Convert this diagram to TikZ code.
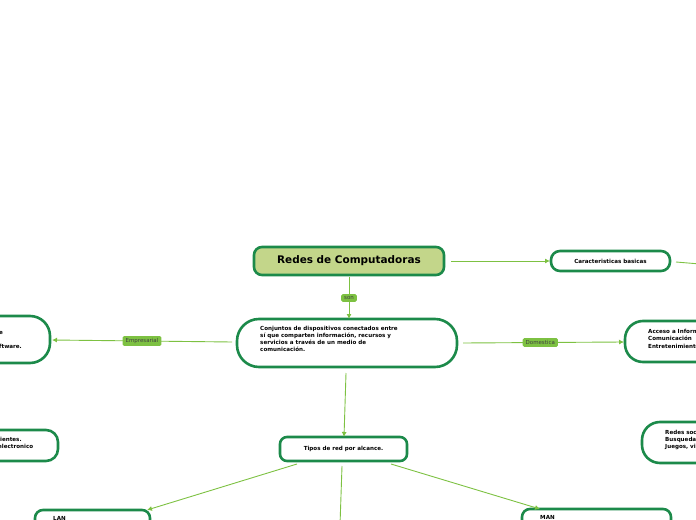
\documentclass[tikz,border=0pt]{standalone}
\usepackage{fontspec}
\setmainfont{DejaVu Sans}
\begin{document}
\begin{tikzpicture}[x=1bp,y=-1bp,
 box/.style={draw=dkg,line width=2.6bp,rounded corners=#1,fill=white,inner sep=0},
 box/.default=10bp,
 conn/.style={draw=lg,line width=0.9bp,-{Latex[length=5bp,width=5bp]}},
 plain/.style={draw=lg,line width=0.9bp},
 lab/.style={fill=lg,rounded corners=1.5bp,font=\fontsize{5.5}{6.5}\selectfont,text=black!75,inner xsep=3bp,inner ysep=2.3bp},
 txt/.style={font=\bfseries\fontsize{5.6}{7.2}\selectfont,align=left,anchor=north west,inner sep=0}]
\usetikzlibrary{arrows.meta}
\definecolor{dkg}{HTML}{1C8A4A}
\definecolor{lg}{HTML}{7DC142}
\definecolor{olive}{HTML}{C3D68A}
\useasboundingbox (0,0) rectangle (696,520);
\clip (0,0) rectangle (696,520);
% boxes
\draw[box=8bp,fill=olive] (254,247) rectangle (444,275);
\node[font=\bfseries\fontsize{10.5}{12}\selectfont] (root) at (349,261) {Redes de Computadoras};
\coordinate (rootR) at (451,261);
\coordinate (rootB) at (349,277);
\draw[box=22bp] (237,319) rectangle (457,367);
\node[txt] (conj) at (260,326) {Conjuntos de dispositivos conectados entre\\sí que comparten información, recursos y\\servicios a través de un medio de\\comunicación.};
\coordinate (conjL) at (232,342); \coordinate (conjR) at (463,343); \coordinate (conjB) at (346,373);
\draw[box=9bp] (551,251) rectangle (670,271);
\node[font=\bfseries\fontsize{5.6}{7}\selectfont] (car) at (610.5,261) {Caracteristicas basicas};
\coordinate (carL) at (550,261); \coordinate (carR) at (676,262); \coordinate (carX) at (700,264);
\draw[box=20bp] (-30,316) rectangle (50,363);
\node[txt] (emp) at (-1,331) {e\\\\ftware.};
\coordinate (empR) at (52,340);
\draw[box=12bp] (-30,430) rectangle (58,461);
\node[txt] (cli) at (-2,437) {lientes.\\electronico};
\draw[box=18bp] (625,321) rectangle (740,362);
\node[txt] (acc) at (648,329) {Acceso a Información\\Comunicación\\Entretenimiento};
\coordinate (accL) at (624,342);
\draw[box=18bp] (642,422) rectangle (740,463);
\node[txt] (red) at (665,430) {Redes sociales\\Busquedas\\Juegos, videos};
\draw[box=7bp] (280,437) rectangle (407,461);
\node[font=\bfseries\fontsize{5.6}{7}\selectfont] (tip) at (343.5,449) {Tipos de red por alcance.};
\coordinate (tipT) at (344,437); \coordinate (tipL) at (297,464); \coordinate (tipB) at (342,466); \coordinate (tipR) at (391,464);
\draw[box=8bp] (35,510) rectangle (150,545);
\node[txt] (lan) at (53,516) {LAN};
\coordinate (lanT) at (147,510);
\draw[box=8bp] (522,509) rectangle (671,545);
\node[txt] (man) at (540,515) {MAN};
\coordinate (manT) at (540,509);
\coordinate (downEnd) at (340,525);
% connectors
\draw[conn] (rootR) -- (carL);
\draw[plain] (carR) -- (carX);
\draw[conn] (rootB) -- node[lab,pos=0.5] {son} (349,319);
\draw[conn] (conjL) -- node[lab,pos=0.5] {Empresarial} (empR);
\draw[conn] (conjR) -- node[lab,pos=0.48] {Domestica} (accL);
\draw[conn] (conjB) -- (tipT);
\draw[conn] (tipL) -- (lanT);
\draw[plain] (tipB) -- (downEnd);
\draw[conn] (tipR) -- (manT);
\end{tikzpicture}
\end{document}
